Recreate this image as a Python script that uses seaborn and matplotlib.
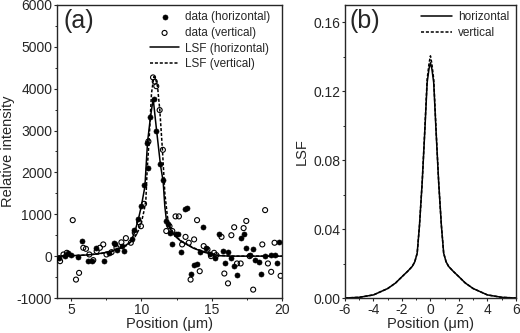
import matplotlib
matplotlib.use("Agg")
import matplotlib.pyplot as plt
from matplotlib.ticker import MultipleLocator
import seaborn as sns

# (a) measured data points
h_x = [4.17, 4.6, 4.77, 5.0, 5.47, 5.8, 6.2, 6.5, 6.8, 7.36, 7.72, 8.07, 8.1, 8.3, 8.6, 8.75,
       9.36, 9.5, 9.77, 10.0, 10.2, 10.38, 10.5, 10.64, 10.87, 11.06, 11.3, 11.53, 11.72, 11.9,
       12.05, 12.2, 12.48, 12.64, 12.85, 13.1, 13.25, 13.5, 13.77, 13.94, 14.15, 14.36, 14.6,
       14.9, 15.26, 15.5, 15.8, 15.97, 16.16, 16.4, 16.6, 16.8, 17.06, 17.27, 17.46, 17.7,
       17.93, 18.1, 18.36, 18.5, 18.8, 19.23, 19.47, 19.66, 19.82]
h_y = [-55, 15, 65, 25, -15, 350, -120, -125, 190, -120, 80, 320, 280, 145, 250, 125,
       410, 630, 890, 1190, 1700, 2710, 2100, 3330, 3750, 2980, 2190, 1820, 830, 770,
       555, 290, 530, 530, 100, 1130, 1140, -420, -210, -180, 100, 700, 190,
       60, -55, 520, 120, -175, 90, -40, -230, -455, 440, 540, 200, 25,
       170, -100, -135, -420, 10, 25, 25, -175, 340]

v_x = [4.22, 4.46, 4.7, 5.12, 5.35, 5.57, 5.87, 6.06, 6.3, 6.58, 6.82, 7.05, 7.29, 7.52, 7.88,
       8.23, 8.58, 8.9, 9.25, 9.53, 9.84, 9.97, 10.19, 10.5, 10.83, 10.95, 11.06, 11.3, 11.53,
       11.77, 12.0, 12.2, 12.43, 12.67, 12.9, 13.14, 13.37, 13.5, 13.75, 13.96, 14.15, 14.43,
       14.7, 14.95, 15.17, 15.33, 15.7, 15.9, 16.16, 16.4, 16.6, 16.8, 17.06, 17.27, 17.46,
       17.7, 17.95, 18.6, 18.8, 19.0, 19.23, 19.47, 19.9]
v_y = [-120, 40, 80, 860, -560, -400, 200, 175, 40, -95, 120, 200, 280, 40, 95,
       200, 330, 430, 320, 560, 810, 715, 1250, 2740, 4270, 4170, 4060, 3490, 2540,
       600, 715, 600, 950, 950, 280, 460, 320, -560, 400, 860, -360, 240,
       160, 0, 80, 25, 460, -415, -650, 500, 690, -175, -175, 670, 840,
       0, -800, 280, 1100, -175, -375, 320, -470]

# (a) fitted LSF curves
fit_h_x = [4, 5, 6, 6.8, 7.7, 8.7, 9.25, 9.55, 9.8, 10.0, 10.25, 10.44, 10.65, 10.84, 11.08,
           11.36, 11.55, 11.67, 11.78, 12.0, 12.4, 12.8, 13.7, 14.5, 15.5, 16.5, 20]
fit_h_y = [0, 10, 25, 50, 100, 220, 340, 600, 900, 1200, 1660, 2730, 3330, 3760, 3010,
           2175, 1780, 1180, 860, 680, 480, 360, 190, 90, 10, 0, 0]
fit_v_x = [4, 5, 6, 7, 8, 9, 9.5, 9.8, 10.0, 10.2, 10.32, 10.41, 10.55, 10.72, 10.89, 11.0,
           11.15, 11.31, 11.5, 11.67, 11.85, 12.0, 12.4, 12.8, 13.7, 14.5, 15.5, 16.5, 20]
fit_v_y = [0, 10, 25, 55, 120, 260, 430, 620, 800, 1100, 1340, 2055, 2770, 3890, 4290, 4250,
           4050, 3490, 2530, 1500, 950, 720, 480, 370, 200, 100, 20, 0, 0]

# (b) normalised LSF
b_x = [-6, -5, -4, -3, -2.45, -1.98, -1.6, -1.28, -1.1, -0.93, -0.77, -0.58, -0.4, -0.23, -0.1, 0,
       0.1, 0.23, 0.4, 0.58, 0.77, 0.93, 1.1, 1.28, 1.6, 1.98, 2.45, 3, 4, 5, 6]
b_h = [0, 0.0004, 0.0018, 0.0055, 0.0087, 0.0125, 0.0155, 0.0183, 0.021, 0.026, 0.042, 0.067,
       0.096, 0.125, 0.133, 0.1365,
       0.133, 0.125, 0.096, 0.067, 0.042, 0.026, 0.021, 0.0183, 0.0155, 0.0125, 0.0087, 0.0055,
       0.0018, 0.0004, 0]
b_v = [0, 0.0004, 0.0018, 0.0055, 0.0087, 0.0125, 0.0155, 0.0183, 0.021, 0.026, 0.042, 0.067,
       0.097, 0.127, 0.136, 0.1405,
       0.136, 0.127, 0.097, 0.067, 0.042, 0.026, 0.021, 0.0183, 0.0155, 0.0125, 0.0087, 0.0055,
       0.0018, 0.0004, 0]

sns.set_style("ticks")
plt.rcParams['font.family'] = ['Liberation Sans', 'DejaVu Sans']
plt.rcParams['axes.unicode_minus'] = False

fig = plt.figure(figsize=(5.2, 3.33), dpi=100)
ax1 = fig.add_axes([0.1096, 0.1051, 0.4327, 0.8799])
ax2 = fig.add_axes([0.6635, 0.1051, 0.3285, 0.8799])

# panel a
sns.scatterplot(x=h_x, y=h_y, ax=ax1, marker='o', s=13, color='black', edgecolor='black',
                linewidth=0.5, label='data (horizontal)', zorder=3)
sns.scatterplot(x=v_x, y=v_y, ax=ax1, marker='o', s=13, facecolors='none', edgecolors='black',
                linewidth=0.8, label='data (vertical)', zorder=3)
sns.lineplot(x=fit_h_x, y=fit_h_y, ax=ax1, color='black', lw=1.1, label='LSF (horizontal)')
sns.lineplot(x=fit_v_x, y=fit_v_y, ax=ax1, color='black', lw=1.1, dashes=False,
             linestyle=(0, (2, 1.2)), label='LSF (vertical)')

ax1.set_xlim(4, 20)
ax1.set_ylim(-1000, 6000)
ax1.xaxis.set_major_locator(MultipleLocator(5))
ax1.xaxis.set_minor_locator(MultipleLocator(2.5))
ax1.yaxis.set_major_locator(MultipleLocator(1000))
ax1.yaxis.set_minor_locator(MultipleLocator(500))
ax1.set_xlabel('Position (μm)', fontsize=10.5, labelpad=0)
ax1.set_ylabel('Relative intensity', fontsize=10.5, labelpad=1)
ax1.text(0.03, 0.985, '(a)', transform=ax1.transAxes, fontsize=18, va='top', ha='left')
ax1.legend(loc='upper right', bbox_to_anchor=(0.975, 1.0), frameon=False, fontsize=8.5,
           handlelength=2.4, handletextpad=0.5, labelspacing=0.3, borderaxespad=0.15)

# panel b
sns.lineplot(x=b_x, y=b_h, ax=ax2, color='black', lw=1.1, label='horizontal')
sns.lineplot(x=b_x, y=b_v, ax=ax2, color='black', lw=1.1, dashes=False,
             linestyle=(0, (2, 1.2)), label='vertical')
ax2.set_xlim(-6, 6)
ax2.set_ylim(0, 0.17)
ax2.xaxis.set_major_locator(MultipleLocator(2))
ax2.xaxis.set_minor_locator(MultipleLocator(1))
ax2.yaxis.set_major_locator(MultipleLocator(0.04))
ax2.yaxis.set_minor_locator(MultipleLocator(0.02))
ax2.yaxis.set_major_formatter(plt.FormatStrFormatter('%.2f'))
ax2.set_xlabel('Position (μm)', fontsize=10.5, labelpad=0)
ax2.set_ylabel('LSF', fontsize=10.5, labelpad=3)
ax2.text(0.025, 0.985, '(b)', transform=ax2.transAxes, fontsize=18, va='top', ha='left')
ax2.legend(loc='upper right', frameon=False, fontsize=8.5, handlelength=2.6,
           handletextpad=0.5, labelspacing=0.3, borderaxespad=0.15)

for ax in (ax1, ax2):
    ax.tick_params(which='major', direction='out', length=2.5, width=0.8, labelsize=10, pad=1)
    ax.tick_params(which='minor', direction='out', length=1.5, width=0.7)
    for sp in ax.spines.values():
        sp.set_linewidth(1.0)
        sp.set_visible(True)

fig.savefig('out.png', dpi=100)
